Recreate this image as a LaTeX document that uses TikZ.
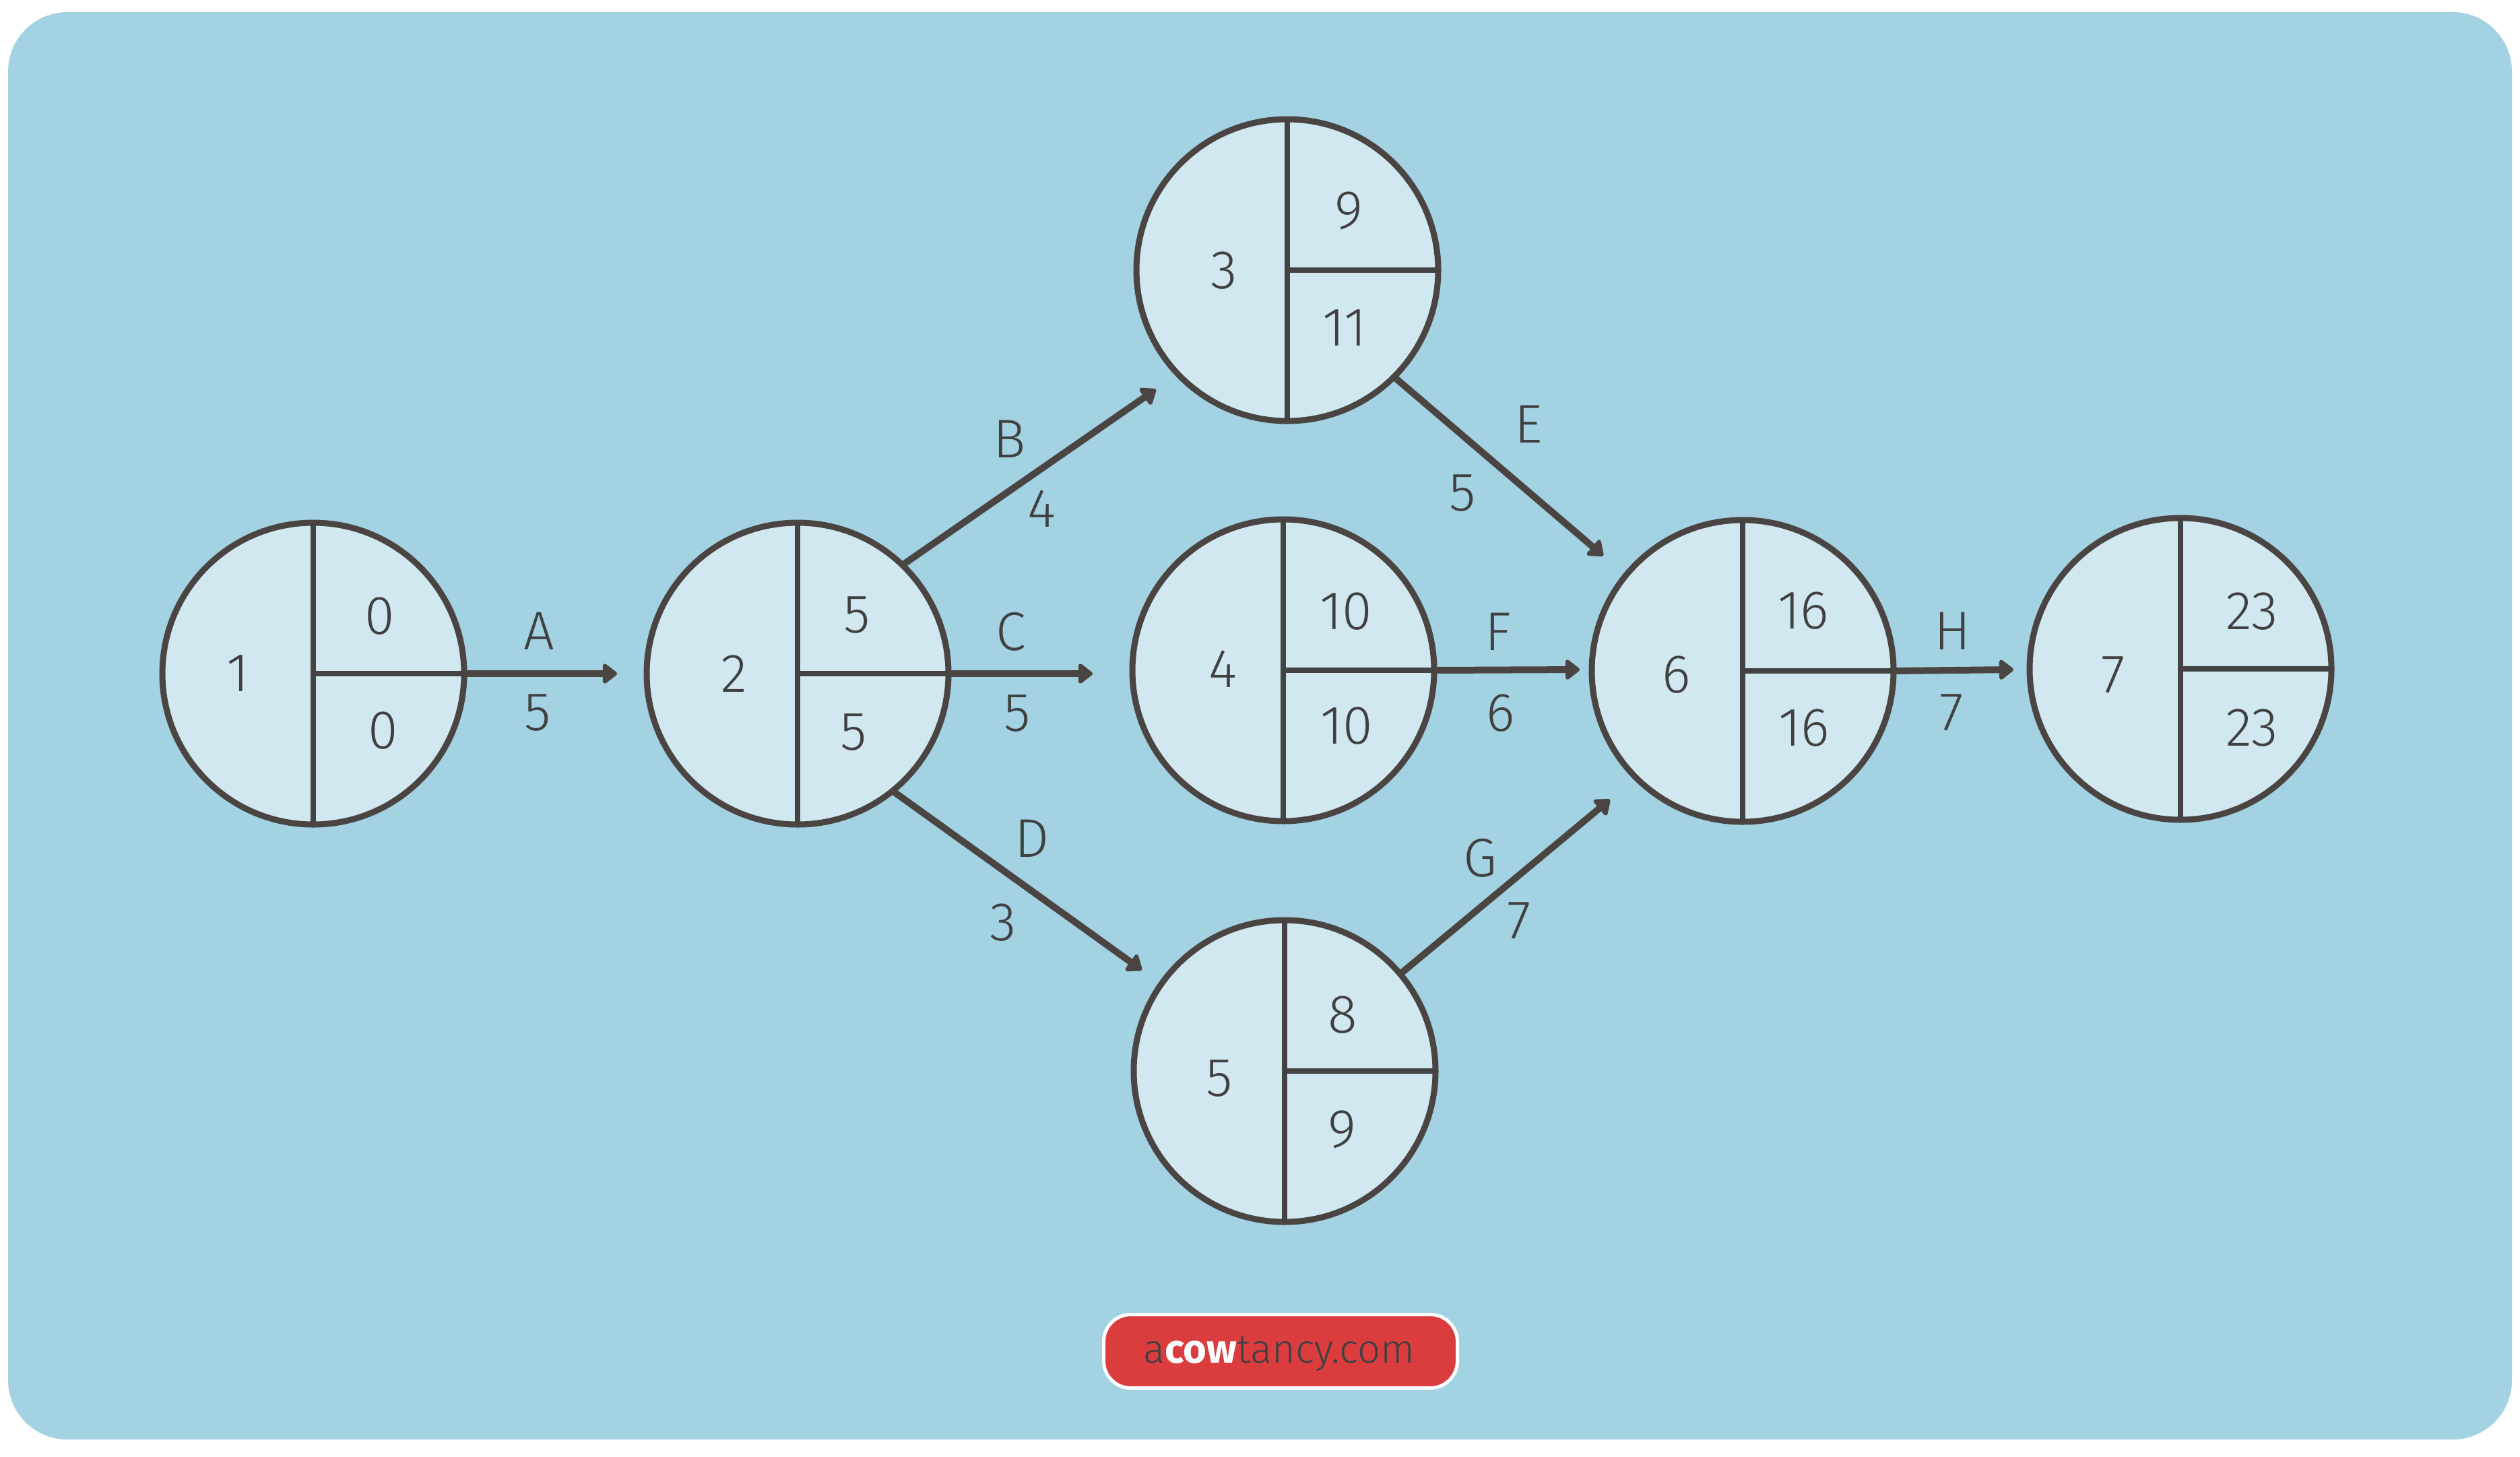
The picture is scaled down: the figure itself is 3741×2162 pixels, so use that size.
\documentclass[tikz,border=0pt]{standalone}
\usepackage{fontspec}
\setmainfont{Fira Sans Light}
\newfontfamily\logofont{Fira Sans}
\usetikzlibrary{arrows.meta}
\definecolor{bgblue}{HTML}{A3D2E2}
\definecolor{nodefill}{HTML}{D1E8F0}
\definecolor{edgecol}{HTML}{4A4442}
\definecolor{divcol}{HTML}{434343}
\definecolor{txt}{HTML}{404040}
\definecolor{logored}{HTML}{DB3D3F}
\begin{document}
\begin{tikzpicture}[x=0.1mm,y=-0.1mm,
  event/.style={circle,draw=edgecol,fill=nodefill,line width=0.9mm,minimum size=44.8mm,inner sep=0pt,outer sep=0pt},
  divider/.style={draw=divcol,line width=0.8mm},
  num/.style={text=txt,font=\fontsize{23}{28}\selectfont,inner sep=0pt},
  act/.style={draw=edgecol,line width=1mm,-{Triangle[length=2.3mm,width=3.4mm,round]}},
]
\useasboundingbox (0,0) rectangle (3741,2162);
\fill[bgblue,rounded corners=8.8mm] (12,18) rectangle (3729,2137);

% events
\node[event] (n1) at (465,1000) {};
\node[event] (n2) at (1184,1000) {};
\node[event] (n3) at (1911,401) {};
\node[event] (n4) at (1905,995) {};
\node[event] (n5) at (1907,1590) {};
\node[event] (n6) at (2587,996) {};
\node[event] (n7) at (3237,993) {};
\foreach \n in {n1,n2,n3,n4,n5,n6,n7}{
  \draw[divider] (\n.north) -- (\n.south);
  \draw[divider] (\n.center) -- (\n.east);
}

% event numbers
\node[num] (l1) at (353,1000) {1};
\node[num] (e1) at (564,915) {0};
\node[num] (f1) at (569,1085) {0};
\node[num] (l2) at (1090,1000) {2};
\node[num] (e2) at (1272,913) {5};
\node[num] (f2) at (1267,1087) {5};
\node[num] (l3) at (1817,402) {3};
\node[num] (e3) at (2002,313) {9};
\node[num] (f3) at (1996,487) {11};
\node[num] (l4) at (1815,993) {4};
\node[num] (e4) at (1998,908) {10};
\node[num] (f4) at (1999,1078) {10};
\node[num] (l5) at (1810,1601) {5};
\node[num] (e5) at (1993,1507) {8};
\node[num] (f5) at (1992,1677) {9};
\node[num] (l6) at (2489,1002) {6};
\node[num] (e6) at (2677,907) {16};
\node[num] (f6) at (2678,1081) {16};
\node[num] (l7) at (3137,1002) {7};
\node[num] (e7) at (3343,908) {23};
\node[num] (f7) at (3343,1081) {23};

% arrow end points
\coordinate (aEnd) at (916,1000);
\coordinate (bEnd) at (1716,578);
\coordinate (cEnd) at (1622,1000);
\coordinate (dEnd) at (1695,1440);
\coordinate (eEnd) at (2380,825);
\coordinate (fEnd) at (2345,994);
\coordinate (gEnd) at (2390,1187);
\coordinate (hEnd) at (2989,994);

\draw[act] (n1.east) -- (aEnd);
\draw[act] (n2.46) -- (bEnd);
\draw[act] (n2.east) -- (cEnd);
\draw[act] (n2.-51) -- (dEnd);
\draw[act] (n3.-45) -- (eEnd);
\draw[act] (n4.east) -- (fEnd);
\draw[act] (n5.40) -- (gEnd);
\draw[act] (n6.east) -- (hEnd);

% activity labels
\node[num] (tA) at (800,937) {A};
\node[num] (dA) at (798,1058) {5};
\node[num] (tB) at (1499,652) {B};
\node[num] (dB) at (1546,755) {4};
\node[num] (tC) at (1501,938) {C};
\node[num] (dC) at (1510,1059) {5};
\node[num] (tD) at (1532,1245) {D};
\node[num] (dD) at (1489,1370) {3};
\node[num] (tE) at (2269,630) {E};
\node[num] (dE) at (2171,732) {5};
\node[num] (tF) at (2224,938) {F};
\node[num] (dF) at (2228,1059) {6};
\node[num] (tG) at (2197,1274) {G};
\node[num] (dG) at (2255,1367) {7};
\node[num] (tH) at (2899,937) {H};
\node[num] (dH) at (2897,1058) {7};

% logo
\node[draw=white,line width=0.5mm,fill=logored,rounded corners=4mm,minimum width=52.5mm,minimum height=10.9mm,inner sep=0pt] (logo) at (1901,2006) {};
\node[anchor=base,inner sep=0pt,font=\fontsize{17}{20}\selectfont] (logotext) at (1899,2023)
  {\textcolor{txt}{a}\textcolor{white}{\logofont\bfseries cow}\textcolor{txt}{tancy.com}};
\end{tikzpicture}
\end{document}
